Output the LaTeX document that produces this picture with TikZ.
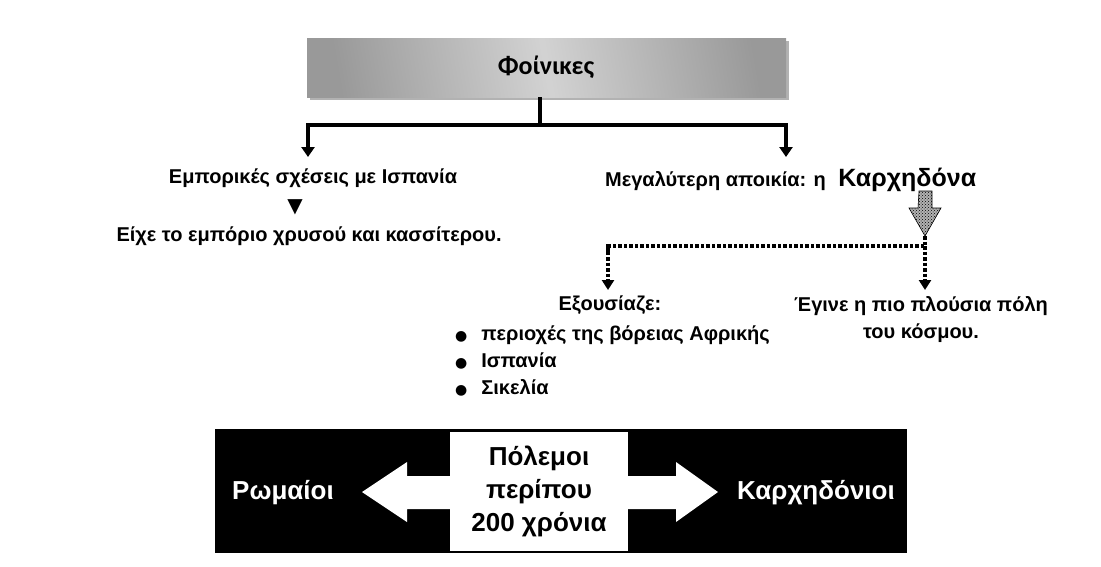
\documentclass[tikz,border=0pt]{standalone}
\usepackage{fontspec}
\setmainfont{Liberation Sans}
\newfontfamily\titlefont{Carlito}
\usetikzlibrary{arrows.meta,patterns,shadows}

\tikzset{
  txt/.style = {font=\bfseries\fontsize{20}{27}\selectfont, inner sep=1pt},
  big/.style = {font=\bfseries\fontsize{26}{33}\selectfont, inner sep=1pt},
  solidarr/.style = {line width=3.5pt, -{Triangle[length=10pt,width=13pt]}},
  dotarr/.style = {line width=3.5pt, dotted, -{Triangle[length=10pt,width=12pt]}}
}

\begin{document}
\begin{tikzpicture}[x=1pt,y=-1pt]
\useasboundingbox (0,0) rectangle (1101,566);

% top box
\fill[gray!60] (310,41) rectangle (789,100);
\shade[left color=gray!120!black, right color=gray!120!black, middle color=gray!35, shading angle=100]
  (307,38) rectangle (786,97);
\node[font=\titlefont\bfseries\fontsize{26}{30}\selectfont] (top) at (546,67) {Φοίνικες};
\coordinate (topbase) at (540,97);
\coordinate (junc) at (540,125);
\coordinate (jl) at (308,125);
\coordinate (jr) at (786,125);

\node[txt] (trade) at (313,178) {Εμπορικές σχέσεις με Ισπανία};
\node[txt] (tri) at (295,207) {\fontspec{DejaVu Sans}\fontsize{20}{20}\selectfont▼};
\node[txt] (gold) at (309,236) {Είχε το εμπόριο χρυσού και κασσίτερου.};
\node[txt, anchor=west] (colony) at (604,180) {Μεγαλύτερη αποικία: η \fontsize{25}{28}\selectfont\ Καρχηδόνα};

\draw[line width=3.5pt] (topbase) -- (junc);
\draw[line width=3.5pt] (jl) ++(-1.7,0) -- ([xshift=1.7pt]jr);
\draw[solidarr] (jl) -- (308,157);
\draw[solidarr] (jr) -- (786,157);

% hatched arrow
\draw[fill=gray!60, line width=0.6pt]
  (919,191) -- (932,191) -- (932,208) -- (941,208) -- (925,236)
  -- (909,208) -- (918,208) -- cycle;
\fill[pattern=crosshatch dots, pattern color=black]
  (919,191) -- (932,191) -- (932,208) -- (941,208) -- (925,236)
  -- (909,208) -- (918,208) -- cycle;
\coordinate (dr) at (925,246);
\coordinate (dl) at (608,246);
\draw[line width=3.5pt, dotted] (925,236) -- (dr) -- (dl) -- (608,252);
\draw[dotarr] (dl) -- (608,290);
\draw[dotarr] (dr) -- (925,290);

\node[txt] (ruled) at (610,305) {Εξουσίαζε:};
\node[txt, anchor=north west, align=left] (list) at (454,325)
  {\fontspec{DejaVu Sans}\fontsize{14}{27}\selectfont●\quad\fontspec{Liberation Sans}\bfseries\fontsize{20}{27}\selectfont περιοχές της βόρειας Αφρικής\\
   \fontspec{DejaVu Sans}\fontsize{14}{27}\selectfont●\quad\fontspec{Liberation Sans}\bfseries\fontsize{20}{27}\selectfont Ισπανία\\
   \fontspec{DejaVu Sans}\fontsize{14}{27}\selectfont●\quad\fontspec{Liberation Sans}\bfseries\fontsize{20}{27}\selectfont Σικελία};
\node[txt, align=center] (rich) at (921,320) {Έγινε η πιο πλούσια πόλη\\του κόσμου.};

% bottom band
\fill[black] (215,429) rectangle (907,553);
\node[fill=white, minimum width=178pt, minimum height=119pt, inner sep=0pt] (wars) at (539,491.5) {};
\node[big, align=center] at (wars) {Πόλεμοι\\περίπου\\200 χρόνια};
\fill[white] (450,476) -- (407,476) -- (407,462) -- (362,492) -- (407,522) -- (407,509) -- (450,509) -- cycle;
\fill[white] (628,476) -- (676,476) -- (676,462) -- (718,492) -- (676,522) -- (676,509) -- (628,509) -- cycle;
\node[big, text=white] (rom) at (283,493) {Ρωμαίοι};
\node[big, text=white] (carth) at (816,493) {Καρχηδόνιοι};
\end{tikzpicture}
\end{document}
